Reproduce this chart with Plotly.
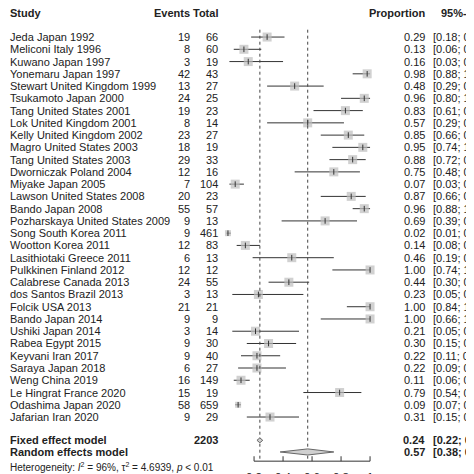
import plotly.graph_objects as go

studies = ["Jeda Japan 1992", "Meliconi Italy 1996", "Kuwano Japan 1997", "Yonemaru Japan 1997",
           "Stewart United Kingdom 1999", "Tsukamoto Japan 2000", "Tang United States 2001",
           "Lok United Kingdom 2001", "Kelly United Kingdom 2002", "Magro United States 2003",
           "Tang United States 2003", "Dworniczak Poland 2004", "Miyake Japan 2005",
           "Lawson United States 2008", "Bando Japan 2008", "Pozharskaya United States 2009",
           "Song South Korea 2011", "Wootton Korea 2011", "Lasithiotaki Greece 2011",
           "Pulkkinen Finland 2012", "Calabrese Canada 2013", "dos Santos Brazil 2013",
           "Folcik USA 2013", "Bando Japan 2014", "Ushiki Japan 2014", "Rabea Egypt 2015",
           "Keyvani Iran 2017", "Saraya Japan 2018", "Weng China 2019", "Le Hingrat France 2020",
           "Odashima Japan 2020", "Jafarian Iran 2020"]
events = [19, 8, 3, 42, 13, 24, 19, 8, 23, 18, 29, 12, 7, 20, 55, 9, 9, 12, 6, 12, 24, 3, 21, 9, 3, 9, 9, 6, 16, 15, 58, 9]
totals = [66, 60, 19, 43, 27, 25, 23, 14, 27, 19, 33, 16, 104, 23, 57, 13, 461, 83, 13, 12, 55, 13, 21, 9, 14, 30, 40, 27, 149, 19, 659, 29]
prop = [0.29, 0.13, 0.16, 0.98, 0.48, 0.96, 0.83, 0.57, 0.85, 0.95, 0.88, 0.75, 0.07, 0.87, 0.96, 0.69,
        0.02, 0.14, 0.46, 1.00, 0.44, 0.23, 1.00, 1.00, 0.21, 0.30, 0.22, 0.22, 0.11, 0.79, 0.09, 0.31]
lower = [0.18, 0.06, 0.03, 0.88, 0.29, 0.80, 0.61, 0.29, 0.66, 0.74, 0.72, 0.48, 0.03, 0.66, 0.88, 0.39,
         0.01, 0.08, 0.19, 0.74, 0.30, 0.05, 0.84, 0.66, 0.05, 0.15, 0.11, 0.09, 0.06, 0.54, 0.07, 0.15]
upper = [0.41, 0.25, 0.40, 1.00, 0.68, 1.00, 0.95, 0.82, 0.96, 1.00, 0.97, 0.93, 0.13, 0.97, 1.00, 0.91,
         0.04, 0.24, 0.75, 1.00, 0.58, 0.54, 1.00, 1.00, 0.51, 0.49, 0.38, 0.42, 0.17, 0.94, 0.11, 0.51]
fixed = (0.24, 0.22, 0.26)
random_eff = (0.57, 0.38, 0.75)
total_n = 2203
ticks = [0.2, 0.4, 0.6, 0.8, 1.0]
tick_text = ["0.2", "0.4", "0.6", "0.8", "1"]

FONT = "Liberation Sans, Arial, sans-serif"
TXT = "#222"
n = len(studies)
rows = list(range(n))
r_fix, r_ran, r_het = n + 0.9, n + 1.85, n + 3.07
ax_y = n + 2.6

fig = go.Figure()

# CI lines
for i in rows:
    fig.add_trace(go.Scatter(x=[lower[i], upper[i]], y=[i, i], mode="lines",
                             line=dict(color="#333", width=1), hoverinfo="skip", showlegend=False))

sizes = [6 if t > 400 else 9 for t in totals]
fig.add_trace(go.Scatter(x=prop, y=rows, mode="markers",
                         marker=dict(symbol="square", size=sizes, color="#bdbdbd", line=dict(width=0)),
                         showlegend=False))
fig.add_trace(go.Scatter(x=prop, y=rows, mode="markers",
                         marker=dict(symbol="line-ns", size=4, line=dict(color="#333", width=1)),
                         showlegend=False))

# reference lines
for v in (fixed[0], random_eff[0]):
    fig.add_trace(go.Scatter(x=[v, v], y=[-0.6, ax_y], mode="lines",
                             line=dict(color="#444", width=1, dash="dot"), showlegend=False))

# diamonds
for est, lo, hi, r, h in [(fixed[0], fixed[1], fixed[2], r_fix, 0.2), (random_eff[0], random_eff[1], random_eff[2], r_ran, 0.25)]:
    fig.add_trace(go.Scatter(x=[lo, est, hi, est, lo], y=[r, r - h, r, r + h, r], mode="lines",
                             fill="toself", fillcolor="#d0d0d0", line=dict(color="#666", width=1),
                             showlegend=False))

# axis line with ticks
fig.add_trace(go.Scatter(x=[ticks[0], ticks[-1]], y=[ax_y, ax_y], mode="lines",
                         line=dict(color="#333", width=1), showlegend=False))
for t, lab in zip(ticks, tick_text):
    fig.add_trace(go.Scatter(x=[t, t], y=[ax_y, ax_y - 0.4], mode="lines",
                             line=dict(color="#333", width=1), showlegend=False))
    fig.add_annotation(x=t, y=n + 3.9, text=lab, showarrow=False, yanchor="middle",
                       font=dict(family=FONT, size=11.5, color=TXT))

X_STUDY, X_EV, X_TOT, X_PROP, X_CI = -1.49, -0.235, -0.042, 1.386, 1.427

def txt(x, y, s, anchor, bold=False, size=11):
    fig.add_annotation(x=x, y=y, text=f"<b>{s}</b>" if bold else s, showarrow=False, xanchor=anchor,
                       xshift=0, borderpad=0, font=dict(family=FONT, size=size, color=TXT))

for i in rows:
    txt(X_STUDY, i, studies[i], "left")
    txt(X_EV, i, str(events[i]), "right")
    txt(X_TOT, i, str(totals[i]), "right")
    txt(X_PROP, i, f"{prop[i]:.2f}", "right")
    txt(X_CI, i, f"[{lower[i]:.2f}; {upper[i]:.2f}]", "left")

hy = -1.96
txt(X_STUDY, hy, "Study", "left", True)
txt(X_EV, hy, "Events", "right", True)
txt(X_TOT, hy, "Total", "right", True)
txt(X_PROP, hy, "Proportion", "right", True)
txt(1.482, hy, "95%-CI", "left", True)

txt(X_STUDY, r_fix, "Fixed effect model", "left", True)
txt(X_TOT, r_fix, str(total_n), "right", True)
txt(X_PROP, r_fix, f"{fixed[0]:.2f}", "right", True)
txt(X_CI, r_fix, f"[{fixed[1]:.2f}; {fixed[2]:.2f}]", "left", True)
txt(X_STUDY, r_ran, "Random effects model", "left", True)
txt(X_PROP, r_ran, f"{random_eff[0]:.2f}", "right", True)
txt(X_CI, r_ran, f"[{random_eff[1]:.2f}; {random_eff[2]:.2f}]", "left", True)
txt(X_STUDY, r_het, "Heterogeneity: <i>I</i><sup>2</sup> = 96%, τ<sup>2</sup> = 4.6939, <i>p</i> &lt; 0.01", "left", size=10)

fig.update_layout(
    width=474, height=474, margin=dict(l=0, r=0, t=0, b=0),
    plot_bgcolor="white", paper_bgcolor="white",
    xaxis=dict(range=[-1.497, 1.772], visible=False),
    yaxis=dict(range=[n + 4.3, -2.37], visible=False),
)
fig.write_html("out.html")
